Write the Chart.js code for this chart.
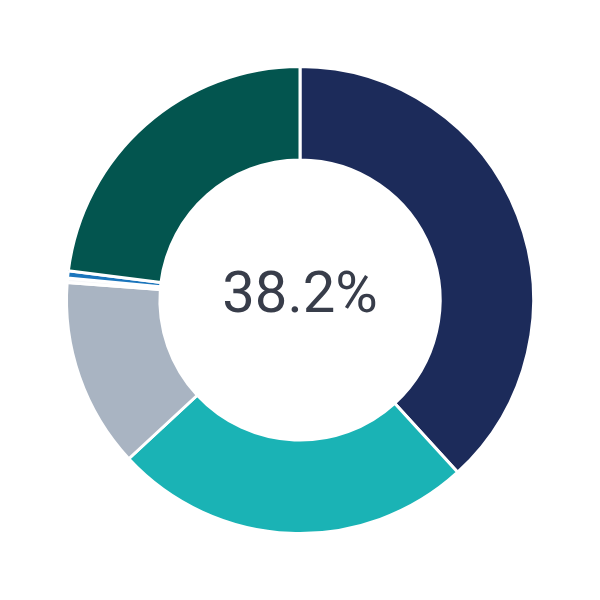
<!DOCTYPE html>
<html>
<head>
<meta charset="utf-8">
<script src="https://cdn.jsdelivr.net/npm/chart.js@4"></script>
<style>
  html, body { margin: 0; padding: 0; background: #ffffff; }
  #wrap { width: 600px; height: 600px; position: relative; }
</style>
</head>
<body>
<div id="wrap"><canvas id="donut"></canvas></div>
<script>
// --- DATA ---
const labels = ['Segment A', 'Segment B', 'Segment C', 'Segment D', 'Segment E', 'Segment F'];
const values = [38.2, 24.9, 13.1, 0.3, 0.5, 23.0];
const colors = ['#1c2b5a', '#1ab3b5', '#a9b4c2', '#f7f8fa', '#1b75bc', '#03554f'];
const centerLabel = '38.2%';

// draws the big number in the hole
const centerText = {
    id: 'centerText',
    afterDraw(chart) {
        const { ctx } = chart;
        const meta = chart.getDatasetMeta(0).data[0];
        ctx.save();
        ctx.font = '58px Roboto, "Liberation Sans", sans-serif';
        ctx.fillStyle = '#383d4a';
        ctx.textAlign = 'center';
        ctx.textBaseline = 'middle';
        ctx.fillText(centerLabel, meta.x, meta.y - 3);
        ctx.restore();
    }
};

new Chart(document.getElementById('donut'), {
    type: 'doughnut',
    data: {
        labels,
        datasets: [{
            data: values,
            backgroundColor: colors,
            borderColor: '#ffffff',
            borderWidth: 3
        }]
    },
    options: {
        responsive: true,
        maintainAspectRatio: false,
        animation: false,
        cutout: '60%',
        layout: { padding: 65 },
        plugins: {
            legend: { display: false },
            tooltip: { enabled: false }
        }
    },
    plugins: [centerText]
});
</script>
</body>
</html>
